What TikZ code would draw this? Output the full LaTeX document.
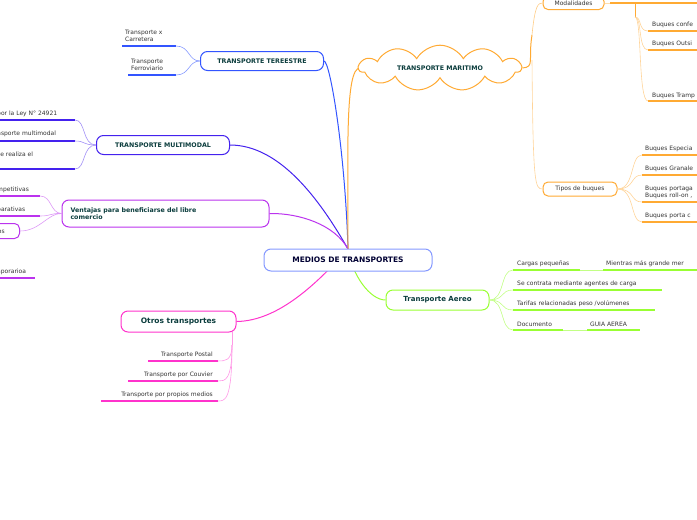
\documentclass[tikz,border=0pt]{standalone}
\usepackage{fontspec}
\setmainfont{DejaVu Sans}
\usetikzlibrary{shapes.symbols}
\definecolor{cblue}{HTML}{3355FF}
\definecolor{cviol}{HTML}{4422EE}
\definecolor{cpurp}{HTML}{BB33EE}
\definecolor{cmag}{HTML}{FF33CC}
\definecolor{cgreen}{HTML}{99FF33}
\definecolor{corange}{HTML}{FFAA33}
\definecolor{ctxt}{HTML}{0B3D3D}
\tikzset{
 box/.style={draw=#1,line width=1pt,rounded corners=7pt,fill=white,inner sep=0pt,font=\fontsize{6.3}{7.5}\selectfont\bfseries,text=ctxt},
 leaf/.style={font=\fontsize{6}{7.5}\selectfont,text=black!80,anchor=south west,inner sep=1pt,align=left},
 ul/.style={draw=#1,line width=1.3pt},
 br/.style={draw=#1,line width=0.6pt},
}
\begin{document}
\begin{tikzpicture}[x=1pt,y=-1pt]
\useasboundingbox (0,0) rectangle (697,520);
\clip (0,0) rectangle (697,520);
\coordinate (ct) at (348,249);
% terrestre
\node[box=cblue,minimum width=123pt,minimum height=19pt] (t) at (262,61) {TRANSPORTE TEREESTRE};
\draw[cblue,line width=1pt] (ct) .. controls (345,150) and (330,61) .. (t.east);
\node[leaf] (t1) at (124,43) {Transporte x\\Carretera};
\node[leaf] (t2) at (130,72) {Transporte\\Ferroviario};
\draw[ul=cblue] (122,46) -- (176,46);
\draw[ul=cblue] (128,75) -- (176,75);
\draw[br=cblue!60] (176,46) .. controls (190,46) and (188,61) .. (t.west);
\draw[br=cblue!60] (176,75) .. controls (190,75) and (188,61) .. (t.west);
% multimodal
\node[box=cviol,minimum width=133pt,minimum height=19pt] (m) at (163,145) {TRANSPORTE MULTIMODAL};
\draw[cviol,line width=1pt] (ct) .. controls (320,200) and (280,145) .. (m.east);
\node[leaf] (m1) at (-4,118) {por la Ley N° 24921};
\node[leaf] (m2) at (-4,138) {nsporte multimodal};
\node[leaf] (m3) at (-4,158) {se realiza el};
\draw[ul=cviol] (0,120) -- (75,120);
\draw[ul=cviol] (0,141) -- (75,141);
\draw[ul=cviol] (0,169) -- (75,169);
\foreach \y in {120,141,169} \draw[br=cviol!50] (75,\y) .. controls (86,\y) and (82,145) .. (m.west);
% ventajas
\node[box=cpurp,minimum width=207pt,minimum height=27pt,align=left,text width=190pt] (v) at (165.5,213.5) {Ventajas para beneficiarse del libre\\comercio};
\draw[cpurp,line width=1pt] (ct) .. controls (335,225) and (300,213) .. (v.east);
\node[leaf] (v1) at (-4,194) {mpetitivas};
\node[leaf] (v2) at (-4,214) {parativas};
\draw[ul=cpurp] (0,196) -- (40,196);
\draw[ul=cpurp] (0,216) -- (40,216);
\node[draw=cpurp,line width=1pt,rounded corners=5pt,minimum width=40pt,minimum height=15pt,inner sep=0pt,anchor=east,font=\fontsize{6}{7}\selectfont,text=black!80,text width=34pt,align=left] (v3) at (20,231) {\hspace*{10pt}dios};
\foreach \y in {196,216} \draw[br=cpurp!50] (40,\y) .. controls (52,\y) and (50,213) .. (v.west);
\draw[br=cpurp!50] (v3.east) .. controls (40,231) and (48,213) .. (v.west);
\node[leaf] (a0) at (-4,276) {aporarioa};
\draw[ul=cpurp] (0,278) -- (35,278);
% otros
\node[box=cmag,minimum width=115pt,minimum height=21pt,font=\fontsize{7.5}{9}\selectfont\bfseries] (o) at (178.5,321.5) {Otros transportes};
\draw[cmag,line width=1pt] (ct) .. controls (320,280) and (280,321) .. (o.east);
\node[leaf,anchor=south east] (o1) at (214,359) {Transporte Postal};
\node[leaf,anchor=south east] (o2) at (214,379) {Transporte por Couvier};
\node[leaf,anchor=south east] (o3) at (214,399) {Transporte por propios medios};
\draw[ul=cmag] (148,361) -- (218,361);
\draw[ul=cmag] (128,381) -- (218,381);
\draw[ul=cmag] (101,401) -- (218,401);
\coordinate (ob) at (232,332);
\draw[br=cmag!50] (ob) -- (232,345);
\foreach \y in {361,381,401} \draw[br=cmag!50] (232,345) .. controls (232,\y) and (225,\y) .. (218,\y);
% aereo
\node[box=cgreen,minimum width=103pt,minimum height=20pt,font=\fontsize{7}{9}\selectfont\bfseries] (ae) at (437.5,300) {Transporte Aereo};
\draw[cgreen,line width=1pt] (ct) .. controls (352,275) and (370,300) .. (ae.west);
\node[leaf] (a1) at (516,268) {Cargas pequeñas};
\node[leaf] (a1b) at (605,268) {Mientras más grande mer};
\node[leaf] (a2) at (516,288) {Se contrata mediante agentes de carga};
\node[leaf] (a3) at (516,308) {Tarifas relacionadas peso /volúmenes};
\node[leaf] (a4) at (516,328) {Documento};
\node[leaf] (a4b) at (589,328) {GUIA AEREA};
\draw[ul=cgreen] (513,270) -- (580,270);
\draw[ul=cgreen] (603,270) -- (697,270);
\draw[br=cgreen!60] (580,270) -- (603,270);
\draw[ul=cgreen] (513,290) -- (662,290);
\draw[ul=cgreen] (513,310) -- (655,310);
\draw[ul=cgreen] (513,330) -- (563,330);
\draw[ul=cgreen] (587,330) -- (640,330);
\draw[br=cgreen!60] (563,330) -- (587,330);
\foreach \y in {270,290,310,330} \draw[br=cgreen!60] (ae.east) .. controls (505,300) and (500,\y) .. (513,\y);
% maritimo
\draw[corange,line width=1pt] (ct) .. controls (348,150) and (345,68) .. (360,68);
\node[cloud,cloud puffs=11,cloud puff arc=120,aspect=4.5,draw=corange,line width=1pt,fill=white,inner sep=0pt,minimum width=162pt,minimum height=30pt,font=\fontsize{6.3}{7.5}\selectfont\bfseries,text=ctxt] (mt) at (440,68) {TRANSPORTE MARITIMO};
\node[box=corange,minimum width=61pt,minimum height=13pt,font=\fontsize{6}{7}\selectfont,text=black!80,rounded corners=5pt] (mo) at (573.5,3) {Modalidades};
\node[box=corange,minimum width=74pt,minimum height=14pt,font=\fontsize{6}{7}\selectfont,text=black!80,rounded corners=5pt] (tb) at (580,189) {Tipos de buques};
\draw[corange,line width=1pt] (mt.east) .. controls (535,67) and (528,60) .. (532,35);
\draw[br=corange!60] (532,35) .. controls (535,5) and (538,3) .. (mo.west);
\draw[br=corange!50] (532,60) .. controls (533,185) and (535,189) .. (tb.west);
\draw[br=corange!40] (mo.east) -- (610,3);
\draw[corange,line width=1.3pt] (610,3) -- (697,3);
\draw[corange,line width=1pt] (635,3) -- (635,17);
\node[leaf] (b1) at (651,29) {Buques confe};
\node[leaf] (b2) at (651,48) {Buques Outsi};
\node[leaf] (b3) at (651,100) {Buques Tramp};
\foreach \y in {31,50,101} {\draw[ul=corange] (648,\y) -- (697,\y); \draw[br=corange!50] (635,17) .. controls (642,17) and (638,\y) .. (648,\y);}
\node[leaf] (s1) at (644,153) {Buques Especia};
\node[leaf] (s2) at (644,173) {Buques Granale};
\node[leaf] (s3) at (644,200) {Buques portaga\\Buques roll-on ,};
\node[leaf] (s4) at (644,220) {Buques porta c};
\foreach \y in {155,175,202,222} {\draw[ul=corange] (642,\y) -- (697,\y); \draw[br=corange!50] (tb.east) .. controls (635,189) and (630,\y) .. (642,\y);}
% central on top
\node[box=cblue!60,minimum width=168pt,minimum height=22pt,font=\fontsize{7.5}{9}\selectfont\bfseries,text=black!80!blue] (c) at (348,260) {MEDIOS DE TRANSPORTES};
\end{tikzpicture}
\end{document}
